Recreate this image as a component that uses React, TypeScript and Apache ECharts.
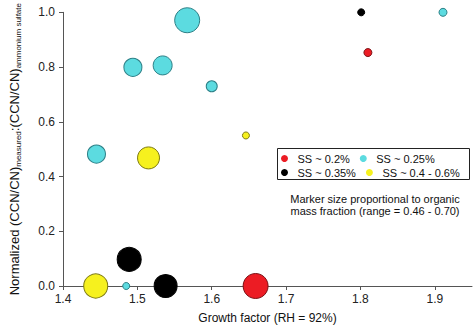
import React, { useEffect, useRef } from "react";
import * as echarts from "echarts";

// [growth factor, normalized CCN/CN, organic mass fraction]
const redData = [
  [1.659, 0, 0.7],
  [1.81, 0.853, 0.473],
];
const cyanData = [
  [1.567, 0.971, 0.7],
  [1.494, 0.799, 0.607],
  [1.534, 0.806, 0.62],
  [1.6, 0.73, 0.513],
  [1.445, 0.482, 0.607],
  [1.485, 0, 0.46],
  [1.911, 1.0, 0.473],
];
const blackData = [
  [1.489, 0.097, 0.687],
  [1.538, 0, 0.673],
  [1.801, 1.0, 0.46],
];
const yellowData = [
  [1.646, 0.55, 0.46],
  [1.515, 0.468, 0.66],
  [1.444, 0, 0.687],
];
const seriesNames = ["SS ~ 0.2%", "SS ~ 0.25%", "SS ~ 0.35%", "SS ~ 0.4 - 0.6%"];

const FONT = "Liberation Sans, Arial, sans-serif";

const sizeOf = (v: number[]) => 7 + ((v[2] - 0.46) / 0.24) * 18;

export default function App() {
  const ref = useRef<HTMLDivElement>(null);
  useEffect(() => {
    if (!ref.current) return;
    const chart = echarts.init(ref.current, null, { renderer: "svg" });
    const mk = (name: string, data: number[][], color: string, border: string) => ({
      name,
      type: "scatter",
      data,
      clip: false,
      symbol: "circle",
      symbolSize: sizeOf,
      itemStyle: { color, borderColor: border, borderWidth: 1, opacity: 1 },
    });
    const legendCommon = {
      icon: "circle",
      itemWidth: 16,
      itemHeight: 7,
      itemGap: 10,
      padding: 0,
      selectedMode: false,
      itemStyle: { borderWidth: 0 },
      textStyle: { fontFamily: FONT, fontSize: 11, color: "#111" },
    };
    chart.setOption({
      animation: false,
      textStyle: { fontFamily: FONT },
      grid: { left: 58, right: 2, top: 8, bottom: 44 },
      xAxis: {
        type: "value",
        min: 1.4,
        max: 1.95,
        interval: 0.1,
        name: "Growth factor (RH = 92%)",
        nameLocation: "middle",
        nameGap: 26,
        nameTextStyle: { fontFamily: FONT, fontSize: 12, color: "#111" },
        splitLine: { show: false },
        axisLine: { lineStyle: { color: "#555", width: 1 } },
        axisTick: { length: 4, lineStyle: { color: "#555" } },
        axisLabel: {
          fontFamily: FONT,
          fontSize: 12,
          color: "#222",
          margin: 7,
          showMaxLabel: false,
          formatter: (v: number) => v.toFixed(1),
        },
      },
      yAxis: {
        type: "value",
        min: 0,
        max: 1,
        interval: 0.2,
        name:
          "{m|Normalized (CCN/CN)}{s|measured}{m|:(CCN/CN)}{s|ammonium sulfate}",
        nameLocation: "middle",
        nameGap: 41,
        nameTextStyle: {
          fontFamily: FONT,
          color: "#111",
          rich: {
            m: { fontFamily: FONT, fontSize: 13, color: "#111" },
            s: {
              fontFamily: FONT,
              fontSize: 8,
              color: "#111",
              padding: [7, 0, 0, 0],
            },
          },
        },
        splitLine: { show: false },
        axisLine: { show: true, lineStyle: { color: "#555", width: 1 } },
        axisTick: { show: true, length: 4, lineStyle: { color: "#555" } },
        axisLabel: {
          fontFamily: FONT,
          fontSize: 12,
          color: "#222",
          margin: 8,
          formatter: (v: number) => v.toFixed(1),
        },
      },
      legend: [
        {
          ...legendCommon,
          left: 281,
          top: 153,
          data: [seriesNames[0], seriesNames[1]],
        },
        {
          ...legendCommon,
          left: 281,
          top: 167,
          data: [seriesNames[2], seriesNames[3]],
        },
      ],
      graphic: [
        {
          type: "rect",
          shape: { x: 277.5, y: 148.5, width: 192, height: 31 },
          style: { fill: "none", stroke: "#222", lineWidth: 1 },
          silent: true,
        },
        {
          type: "text",
          x: 375,
          y: 193,
          style: {
            text: "Marker size proportional to organic\nmass fraction (range = 0.46 - 0.70)",
            fontFamily: FONT,
            fontSize: 11,
            lineHeight: 12,
            fill: "#111",
            align: "center",
            verticalAlign: "top",
          },
          silent: true,
        },
      ],
      series: [
        mk(seriesNames[0], redData, "#ec1c24", "#7a1014"),
        mk(seriesNames[1], cyanData, "#5cdbe0", "#2c7f86"),
        mk(seriesNames[2], blackData, "#000000", "#000000"),
        mk(seriesNames[3], yellowData, "#f6f11e", "#7d7a10"),
      ],
    });
    return () => chart.dispose();
  }, []);
  return <div ref={ref} style={{ width: 474, height: 330, position: "absolute", left: 0, top: 0 }} />;
}
